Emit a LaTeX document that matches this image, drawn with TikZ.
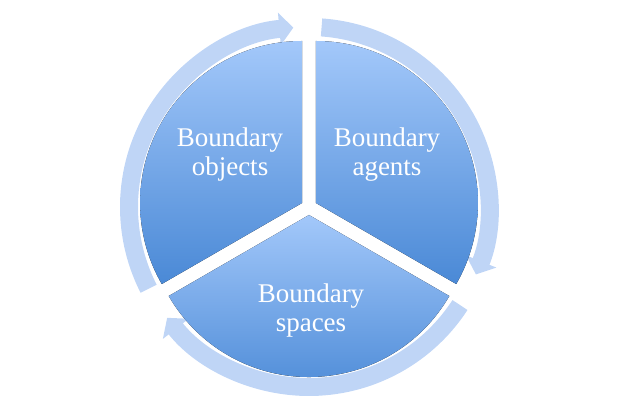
\documentclass[tikz,border=0pt]{standalone}
\usepackage{fontspec}
\setmainfont{Liberation Serif}
\usetikzlibrary{arrows.meta}
\begin{document}
\begin{tikzpicture}[x=1pt,y=1pt,
  seg/.style={top color=segtop,bottom color=segbot,draw=none},
  ring/.style={draw=ringc,line width=18pt,-{Triangle[width=32pt,length=14pt]}},
  lbl/.style={text=white,font=\fontsize{27}{29}\selectfont,align=center}]
\definecolor{segtop}{HTML}{A3C8FA}
\definecolor{segbot}{HTML}{4A89D6}
\definecolor{ringc}{HTML}{BFD5F6}
\useasboundingbox (0,0) rectangle (619,412);
\coordinate (c) at (309,205);
% rings
\draw[ring] (c)+(207:180) arc[start angle=207,end angle=95,radius=180];
\draw[ring] (c)+(86:180) arc[start angle=86,end angle=-22,radius=180];
\draw[ring] (c)+(-33:180) arc[start angle=-33,end angle=-142,radius=180];
% segments
\fill[seg] ([shift={(150:8)}]c) -- ++(90:162) arc[start angle=90,end angle=210,radius=162] -- cycle;
\fill[seg] ([shift={(30:8)}]c) -- ++(90:162) arc[start angle=90,end angle=-30,radius=162] -- cycle;
\fill[seg] ([shift={(270:8)}]c) -- ++(-30:162) arc[start angle=-30,end angle=-150,radius=162] -- cycle;
\node[lbl] (a) at (230,257) {Boundary\\objects};
\node[lbl] (b) at (387,257) {Boundary\\agents};
\node[lbl] (d) at (311,101) {Boundary\\spaces};
\end{tikzpicture}
\end{document}
